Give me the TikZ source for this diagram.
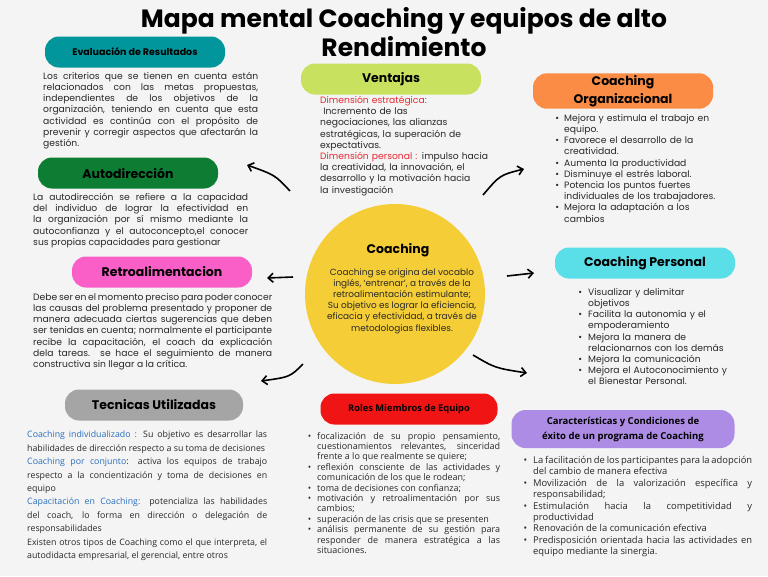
\documentclass[tikz,border=0pt]{standalone}
\usepackage{fontspec}
\setmainfont{Poppins}
\newfontfamily\bodyb{Open Sans}
\usetikzlibrary{arrows.meta}
\definecolor{bgc}{RGB}{244,244,244}
\definecolor{teal1}{RGB}{0,150,155}
\definecolor{green1}{RGB}{12,125,50}
\definecolor{pink1}{RGB}{250,95,200}
\definecolor{gray1}{RGB}{165,165,165}
\definecolor{lime1}{RGB}{200,226,95}
\definecolor{orange1}{RGB}{250,140,70}
\definecolor{yellow1}{RGB}{245,205,55}
\definecolor{cyan1}{RGB}{90,222,232}
\definecolor{red1}{RGB}{240,20,20}
\definecolor{purple1}{RGB}{172,140,228}
\definecolor{redt}{RGB}{230,40,50}
\definecolor{bluet}{RGB}{40,110,190}
\definecolor{txt}{RGB}{40,40,40}
\hyphenpenalty=10000 \exhyphenpenalty=10000
\begin{document}
\begin{tikzpicture}[x=1pt,y=-1pt,
 banner/.style={rounded corners=14pt,minimum height=31pt,font=\bfseries\fontsize{12.5}{14}\selectfont,inner sep=2pt,align=center},
 body/.style={anchor=north west,inner sep=0pt,align=justify,font=\fontsize{9.2}{11.2}\selectfont,text=txt},
 bodyo/.style={anchor=north west,inner sep=0pt,align=justify,font=\bodyb\fontsize{8.8}{13.4}\selectfont,text=txt},
 arr/.style={-{Straight Barb[length=5pt,width=9pt]},line width=1.6pt,black}]
\useasboundingbox (0,0) rectangle (768,576);
\fill[bgc] (0,0) rectangle (768,576);
\node[font=\bfseries\fontsize{25}{29}\selectfont,align=center] (title) at (404,32) {Mapa mental Coaching y equipos de alto\\Rendimiento};
% left column
\node[banner,fill=teal1,minimum width=180pt,font=\bfseries\fontsize{9.5}{10}\selectfont] (eval) at (135,52) {Evaluación de Resultados};
\node[body,text width=215pt] (evalt) at (43,72) {Los criterios que se tienen en cuenta están relacionados con las metas propuestas, independientes de los objetivos de la organización, teniendo en cuenta que esta actividad es continúa con el propósito de prevenir y corregir aspectos que afectarán la gestión.};
\node[banner,fill=green1,minimum width=180pt] (auto) at (128,173) {Autodirección};
\node[body,text width=215pt] (autot) at (33,193) {La autodirección se refiere a la capacidad del individuo de lograr la efectividad en la organización por sí mismo mediante la autoconfianza y el autoconcepto,el conocer sus propias capacidades para gestionar};
\node[banner,fill=pink1,minimum width=180pt] (retro) at (162,272) {Retroalimentacion};
\node[body,text width=239pt] (retrot) at (33,293) {Debe ser en el momento preciso para poder conocer las causas del problema presentado y proponer de manera adecuada ciertas sugerencias que deben ser tenidas en cuenta; normalmente el participante recibe la capacitación, el coach da explicación dela tareas. se hace el seguimiento de manera constructiva sin llegar a la crítica.};
\node[banner,fill=gray1,minimum width=178pt] (tec) at (154,405) {Tecnicas Utilizadas};
\node[bodyo,text width=240pt] (tect) at (27,431) {\textcolor{bluet}{Coaching individualizado :} Su objetivo es desarrollar las habilidades de dirección respecto a su toma de decisiones\\
\textcolor{bluet}{Coaching por conjunto}: activa los equipos de trabajo respecto a la concientización y toma de decisiones en equipo\\
\textcolor{bluet}{Capacitación en Coaching:} potencializa las habilidades del coach, lo forma en dirección o delegación de responsabilidades\\
Existen otros tipos de Coaching como el que interpreta, el autodidacta empresarial, el gerencial, entre otros};
% center
\node[banner,fill=lime1,minimum width=180pt] (vent) at (391,79) {Ventajas};
\node[body,text width=168pt,align=left] (ventt) at (320,96) {\textcolor{redt}{Dimensión estratégica:}\\ \ Incremento de las\\ negociaciones, las alianzas estratégicas, la superación de expectativas.\\
\textcolor{redt}{Dimensión personal :} impulso hacia la creatividad, la innovación, el desarrollo y la motivación hacia la investigación};
\node[circle,fill=yellow1,minimum size=180pt,inner sep=0pt] (coach) at (395,294) {};
\node[font=\bfseries\fontsize{12.5}{14}\selectfont] (coachh) at (398,250) {Coaching};
\node[font=\fontsize{8.9}{11.2}\selectfont,align=center,text=txt] (coacht) at (402,301) {Coaching se origina del vocablo\\ inglés, ‘entrenar’, a través de la\\ retroalimentación estimulante;\\ Su objetivo es lograr la eficiencia,\\ eficacia y efectividad, a través de\\ metodologias flexibles.};
\node[banner,fill=red1,minimum width=177pt,font=\bodyb\bfseries\fontsize{9.3}{10}\selectfont] (roles) at (409,409) {Roles Miembros de Equipo};
\node[bodyo,text width=194pt] (rolest) at (306,432) {%
\begin{minipage}{194pt}\fontsize{9}{10.4}\selectfont\begin{list}{\textbullet}{\leftmargin=11pt\labelsep=6pt\itemsep=0pt\parsep=0pt\topsep=0pt}
\item focalización de su propio pensamiento, cuestionamientos relevantes, sinceridad frente a lo que realmente se quiere;
\item reflexión consciente de las actividades y comunicación de los que le rodean;
\item toma de decisiones con confianza;
\item motivación y retroalimentación por sus cambios;
\item superación de las crisis que se presenten
\item análisis permanente de su gestión para responder de manera estratégica a las situaciones.
\end{list}\end{minipage}};
% right
\node[banner,fill=orange1,minimum width=180pt,minimum height=34pt,font=\bfseries\fontsize{12.5}{18}\selectfont] (org) at (623,91) {Coaching\\Organizacional};
\node[body,align=left,text width=165pt] (orgt) at (553,114) {%
\begin{minipage}{165pt}\raggedright\begin{list}{\textbullet}{\leftmargin=11pt\labelsep=5pt\itemsep=0pt\parsep=0pt\topsep=0pt}
\item Mejora y estimula el trabajo en equipo.
\item Favorece el desarrollo de la creatividad.
\item Aumenta la productividad
\item Disminuye el estrés laboral.
\item Potencia los puntos fuertes individuales de los trabajadores.
\item Mejora la adaptación a los cambios
\end{list}\end{minipage}};
\node[banner,fill=cyan1,minimum width=180pt] (pers) at (645,263) {Coaching Personal};
\node[body,align=left,text width=162pt] (perst) at (575,288) {%
\begin{minipage}{162pt}\raggedright\begin{list}{\textbullet}{\leftmargin=13pt\labelsep=6pt\itemsep=0pt\parsep=0pt\topsep=0pt}
\item Visualizar y delimitar\\ objetivos
\item Facilita la autonomía y el empoderamiento
\item Mejora la manera de relacionarnos con los demás
\item Mejora la comunicación
\item Mejora el Autoconocimiento y el Bienestar Personal.
\end{list}\end{minipage}};
\node[banner,fill=purple1,minimum width=223pt,minimum height=38pt,font=\bodyb\bfseries\fontsize{9.5}{15}\selectfont] (car) at (623,429) {Características y Condiciones de\\éxito de un programa de Coaching};
\node[bodyo,text width=232pt] (cart) at (520,456) {%
\begin{minipage}{232pt}\fontsize{9.4}{11.4}\selectfont\begin{list}{\textbullet}{\leftmargin=13pt\labelsep=6pt\itemsep=0pt\parsep=0pt\topsep=0pt}
\item La facilitación de los participantes para la adopción del cambio de manera efectiva
\item Movilización de la valorización específica y responsabilidad;
\item Estimulación hacia la competitividad y productividad
\item Renovación de la comunicación efectiva
\item Predisposición orientada hacia las actividades en equipo mediante la sinergia.
\end{list}\end{minipage}};
% arrows
\coordinate (a1s) at (290,191); \coordinate (a1e) at (247,165);
\coordinate (a2s) at (293,277); \coordinate (a2e) at (267,278);
\coordinate (a3s) at (303,364); \coordinate (a3e) at (261,381);
\coordinate (a4s) at (483,195); \coordinate (a4e) at (524,169);
\coordinate (a5s) at (507,276); \coordinate (a5e) at (534,273);
\coordinate (a6s) at (473,355); \coordinate (a6e) at (527,373);
\draw[arr] (a1s) .. controls (275,175) .. (a1e);
\draw[arr] (a2s) -- (a2e);
\draw[arr] (a3s) .. controls (290,377) .. (a3e);
\draw[arr] (a4s) .. controls (500,175) .. (a4e);
\draw[arr] (a5s) -- (a5e);
\draw[arr] (a6s) .. controls (495,368) .. (a6e);
\end{tikzpicture}
\end{document}
